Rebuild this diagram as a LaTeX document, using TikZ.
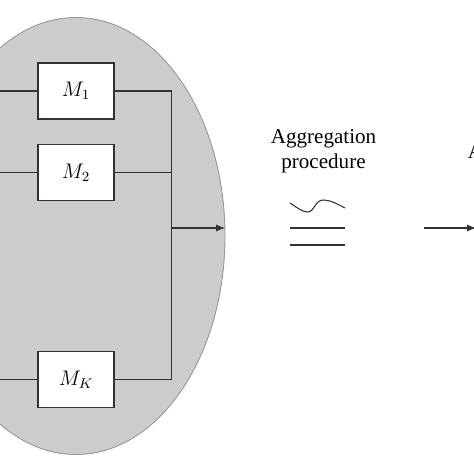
\documentclass[tikz,border=0pt]{standalone}
\usepackage{amsmath}
\usepackage{fontspec}
\setmainfont{Liberation Serif}
\usetikzlibrary{arrows.meta,positioning,shapes.geometric}
\definecolor{ellfill}{RGB}{205,203,204}
\definecolor{elledge}{RGB}{150,150,150}
\definecolor{linedark}{RGB}{50,50,50}
\begin{document}
\begin{tikzpicture}[>=Latex,every node/.style={align=center,font=\fontsize{12}{14.3}\selectfont},
    modelbox/.style={draw=linedark,fill=white,line width=0.6pt,minimum width=1.52cm,minimum height=1.12cm,inner sep=0pt},
    wire/.style={draw=linedark,line width=0.6pt}]
  \useasboundingbox (0,0) rectangle (9.48,9.48);
  \clip (0,0) rectangle (9.48,9.48);
  \node[ellipse,draw=elledge,fill=ellfill,line width=0.5pt,minimum width=5.96cm,minimum height=8.74cm,inner sep=0pt] (ell) at (1.52,4.76) {};
  \node[modelbox] (m1) at (1.52,7.66) {\(M_1\)};
  \node[modelbox,below=0.49cm of m1] (m2) {\(M_2\)};
  \node[modelbox,below=3.0cm of m2] (mk) {\(M_K\)};
  % inputs come in from the left edge
  \coordinate (in1) at (0,7.66);
  \coordinate[right=1.14cm of m1] (bt);
  \coordinate[right=1.14cm of mk] (bb);
  \coordinate (bj) at (3.42,4.92);
  \coordinate (tip) at (4.5,4.92);
  \draw[wire] (in1) -- (m1);
  \draw[wire] (m2-|in1) -- (m2);
  \draw[wire] (mk-|in1) -- (mk);
  \draw[wire] (m1) -- (bt) -- (bb) -- (mk);
  \draw[wire] (m2) -- (m2-|bt);
  \draw[wire,-{Latex[length=5pt,width=4pt]}] (bj) -- (tip);
  % aggregation block
  \node (agg) at (6.47,6.46) {Aggregation\\procedure};
  \coordinate (w0) at (5.8,5.42);
  \coordinate (w1) at (6.9,5.32);
  \coordinate (l1) at (5.8,4.92);
  \coordinate[right=1.1cm of l1] (l2);
  \coordinate (l3) at (5.8,4.58);
  \coordinate[right=1.1cm of l3] (l4);
  \draw[wire] (w0) .. controls (5.98,5.3) and (6.06,5.24) .. (6.16,5.24) .. controls (6.28,5.24) and (6.3,5.48) .. (6.47,5.48) .. controls (6.6,5.48) and (6.75,5.4) .. (w1);
  \draw[wire] (l1) -- (l2);
  \draw[wire] (l3) -- (l4);
  \coordinate (out0) at (8.48,4.92);
  \coordinate (out1) at (9.52,4.92);
  \draw[wire,-{Latex[length=5pt,width=4pt]}] (out0) -- (out1);
  \node[anchor=west,inner sep=0pt] (res) at (9.35,6.45) {A};
\end{tikzpicture}
\end{document}
